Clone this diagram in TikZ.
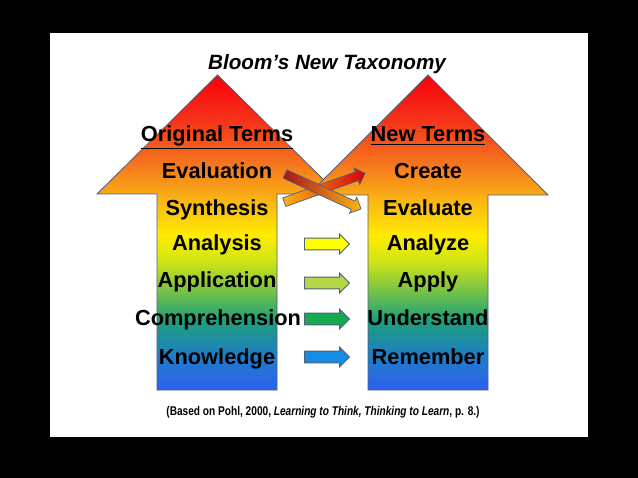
\documentclass[tikz,border=0pt]{standalone}
\usepackage{fontspec}
\setmainfont{Liberation Sans}
\usepackage{graphicx}
\usepackage{tikz}
\usetikzlibrary{shapes.arrows,calc}

\definecolor{tred}{RGB}{250,0,10}
\definecolor{tredor}{RGB}{245,50,25}
\definecolor{torange}{RGB}{245,120,30}
\definecolor{tgold}{RGB}{250,180,20}
\definecolor{tyellow}{RGB}{255,235,0}
\definecolor{tlimey}{RGB}{210,230,20}
\definecolor{tlime}{RGB}{120,195,70}
\definecolor{tgreen}{RGB}{30,160,120}
\definecolor{tteal}{RGB}{30,125,200}
\definecolor{tblue}{RGB}{45,95,240}
\definecolor{edgeline}{RGB}{80,95,125}
\definecolor{darkred}{RGB}{165,20,25}

\pgfdeclareverticalshading{rainbow}{100bp}{color(0bp)=(tblue); color(25bp)=(tblue); color(30.4bp)=(tteal); color(36.1bp)=(tgreen); color(40.9bp)=(tlime); color(45.6bp)=(tlimey); color(49.6bp)=(tyellow); color(55.2bp)=(tgold); color(60.7bp)=(torange); color(67.9bp)=(tredor); color(75bp)=(tred); color(100bp)=(tred)}

\begin{document}
\begin{tikzpicture}[
    x=0.025cm, y=-0.025cm,
    bigarrow/.style={shading=rainbow, draw=edgeline, line width=0.6pt},
    term/.style={font=\bfseries\fontsize{15.5}{18}\selectfont, anchor=base, inner sep=0pt},
    shiftarrow/.style={single arrow, draw=edgeline, line width=0.6pt, inner sep=0pt, text height=7.8pt, text depth=0pt, single arrow head extend=2.8pt, minimum height=32pt},
    crossarrow/.style={single arrow, draw=edgeline, line width=0.5pt, inner sep=0pt, text height=6pt, text depth=0pt, single arrow head extend=3pt}
]
    \fill[black] (0,0) rectangle (638,478);
    \fill[white] (50,33) rectangle (588,437);

    \shade[bigarrow] (157,390) -- (157,194) -- (97,194) -- (217.5,75) -- (338,194) -- (277,194) -- (277,390) -- cycle;
    \shade[bigarrow] (368,390) -- (368,195) -- (308,195) -- (428,75) -- (548,195) -- (488,195) -- (488,390) -- cycle;

    \node [font=\bfseries\itshape\fontsize{14.7}{17}\selectfont, anchor=base] (title) at (327,70) {Bloom’s New Taxonomy};

    \node [term] (orig) at (217,142) {\underline{Original Terms}};
    \node [term] (evaluation) at (217,179) {Evaluation};
    \node [term] (synthesis) at (217,216) {Synthesis};
    \node [term] (analysis) at (217,251) {Analysis};
    \node [term] (application) at (217,288) {Application};
    \node [term] (comprehension) at (218,326) {Comprehension};
    \node [term] (knowledge) at (217,364) {Knowledge};

    \node [term] (new) at (428,142) {\underline{New Terms}};
    \node [term] (create) at (428,179) {Create};
    \node [term] (evaluate) at (428,216) {Evaluate};
    \node [term] (analyze) at (428,251) {Analyze};
    \node [term] (apply) at (428,288) {Apply};
    \node [term] (understand) at (428,326) {Understand};
    \node [term] (remember) at (428,364) {Remember};

    \node [crossarrow, minimum height=61pt, rotate=19.7, left color=tgold, right color=tred!85!black] (syncre) at (322.5,188.5) {};
    \node [crossarrow, minimum height=59.5pt, rotate=-24.7, left color=darkred, middle color=tred, right color=tgold] (evaleval) at (321,190.5) {};

    \node [shiftarrow, fill={rgb,255:red,255;green,255;blue,0}] (a1) at (324,244) {};
    \node [shiftarrow, fill={rgb,255:red,180;green,215;blue,70}] (a2) at (324,283) {};
    \node [shiftarrow, fill={rgb,255:red,20;green,170;blue,80}] (a3) at (324,319) {};
    \node [shiftarrow, fill={rgb,255:red,20;green,140;blue,230}] (a4) at (324,357) {};

    \node [font=\bfseries\fontsize{9}{11}\selectfont, anchor=base, inner sep=0pt] (source) at (323,415)
        {\scalebox{0.8}[1]{(Based on Pohl, 2000, \textit{Learning to Think, Thinking to Learn}, p. 8.)}};
\end{tikzpicture}
\end{document}
